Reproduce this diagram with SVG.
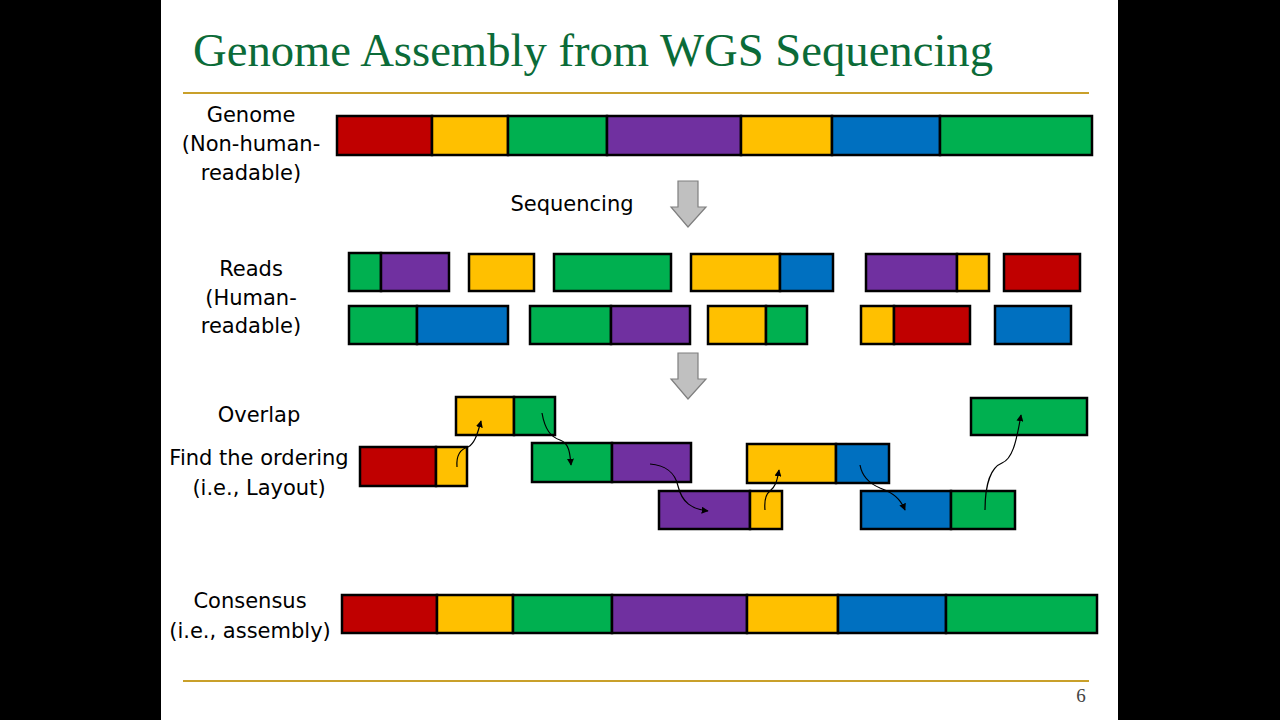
<svg xmlns="http://www.w3.org/2000/svg" width="1280" height="720" viewBox="0 0 1280 720">
<style>
.lbl{font-family:"DejaVu Sans",Verdana,sans-serif;font-size:21px;fill:#000;text-anchor:middle}
.seg{stroke:#000;stroke-width:2.5}
.r{fill:#C00000}.y{fill:#FFC000}.g{fill:#00B050}.p{fill:#7030A0}.b{fill:#0070C0}
.gold{stroke:#C9A02A;stroke-width:2}
.big{fill:#C0C0C0;stroke:#7F7F7F;stroke-width:1.2}
.cv{fill:none;stroke:#000;stroke-width:1.2;marker-end:url(#ah)}
</style>
<defs>
<marker id="ah" viewBox="0 0 10 10" refX="9" refY="5" markerWidth="7" markerHeight="7" markerUnits="userSpaceOnUse" orient="auto"><path d="M0,0 L10,5 L0,10 z" fill="#000"/></marker>
</defs>
<rect x="0" y="0" width="1280" height="720" fill="#000"/>
<rect x="161" y="0" width="957" height="720" fill="#fff"/>
<text x="193" y="66" textLength="800" lengthAdjust="spacingAndGlyphs" style="font-family:'Liberation Serif','Times New Roman',serif;font-size:46px;fill:#0B6B38">Genome Assembly from WGS Sequencing</text>
<line class="gold" x1="183" y1="93" x2="1089" y2="93"/>
<line class="gold" x1="183" y1="681" x2="1089" y2="681"/>
<text x="1081" y="702" style="font-family:'Liberation Serif',serif;font-size:19px;fill:#444;text-anchor:middle">6</text>

<g id="labels">
<text class="lbl" x="251" y="122">Genome</text>
<text class="lbl" x="251" y="151">(Non-human-</text>
<text class="lbl" x="251" y="180">readable)</text>
<text class="lbl" x="572" y="211">Sequencing</text>
<text class="lbl" x="251" y="276">Reads</text>
<text class="lbl" x="251" y="305">(Human-</text>
<text class="lbl" x="251" y="333">readable)</text>
<text class="lbl" x="259" y="422">Overlap</text>
<text class="lbl" x="259" y="465">Find the ordering</text>
<text class="lbl" x="259" y="495">(i.e., Layout)</text>
<text class="lbl" x="250" y="608">Consensus</text>
<text class="lbl" x="250" y="638">(i.e., assembly)</text>
</g>

<g id="genome">
<rect class="seg r" x="337" y="116" width="95" height="39"/>
<rect class="seg y" x="432" y="116" width="76" height="39"/>
<rect class="seg g" x="508" y="116" width="99" height="39"/>
<rect class="seg p" x="607" y="116" width="134" height="39"/>
<rect class="seg y" x="741" y="116" width="91" height="39"/>
<rect class="seg b" x="832" y="116" width="108" height="39"/>
<rect class="seg g" x="940" y="116" width="152" height="39"/>
</g>

<g id="arrow-sequencing">
<path class="big" d="M678,181 H698 V207 H706 L688,227 L671,207 H678 Z"/>
</g>
<g id="arrow-overlap">
<path class="big" d="M678,353 H698 V379 H706 L688,399 L671,379 H678 Z"/>
</g>

<g id="reads-row1">
<g id="read1"><rect class="seg g" x="349" y="253" width="32" height="38"/><rect class="seg p" x="381" y="253" width="68" height="38"/></g>
<g id="read2"><rect class="seg y" x="469" y="254" width="65" height="37"/></g>
<g id="read3"><rect class="seg g" x="554" y="254" width="117" height="37"/></g>
<g id="read4"><rect class="seg y" x="691" y="254" width="89" height="37"/><rect class="seg b" x="780" y="254" width="53" height="37"/></g>
<g id="read5"><rect class="seg p" x="866" y="254" width="91" height="37"/><rect class="seg y" x="957" y="254" width="32" height="37"/></g>
<g id="read6"><rect class="seg r" x="1004" y="254" width="76" height="37"/></g>
</g>
<g id="reads-row2">
<g id="read7"><rect class="seg g" x="349" y="306" width="68" height="38"/><rect class="seg b" x="417" y="306" width="91" height="38"/></g>
<g id="read8"><rect class="seg g" x="530" y="306" width="81" height="38"/><rect class="seg p" x="611" y="306" width="79" height="38"/></g>
<g id="read9"><rect class="seg y" x="708" y="306" width="58" height="38"/><rect class="seg g" x="766" y="306" width="41" height="38"/></g>
<g id="read10"><rect class="seg y" x="861" y="306" width="33" height="38"/><rect class="seg r" x="894" y="306" width="76" height="38"/></g>
<g id="read11"><rect class="seg b" x="995" y="306" width="76" height="38"/></g>
</g>

<g id="layout">
<g id="L-red-yellow"><rect class="seg r" x="360" y="447" width="76" height="39"/><rect class="seg y" x="436" y="447" width="31" height="39"/></g>
<g id="L-yellow-green"><rect class="seg y" x="456" y="397" width="58" height="38"/><rect class="seg g" x="514" y="397" width="41" height="38"/></g>
<g id="L-green-purple"><rect class="seg g" x="532" y="443" width="80" height="39"/><rect class="seg p" x="612" y="443" width="79" height="39"/></g>
<g id="L-purple-yellow"><rect class="seg p" x="659" y="491" width="91" height="38"/><rect class="seg y" x="750" y="491" width="32" height="38"/></g>
<g id="L-yellow-blue"><rect class="seg y" x="747" y="444" width="89" height="39"/><rect class="seg b" x="836" y="444" width="53" height="39"/></g>
<g id="L-blue-green"><rect class="seg b" x="861" y="491" width="90" height="38"/><rect class="seg g" x="951" y="491" width="64" height="38"/></g>
<g id="L-green"><rect class="seg g" x="971" y="398" width="116" height="37"/></g>
</g>

<g id="connectors">
<path class="cv" d="M457,467 C456,455 461,449 468,447 C474,444 477,436 481,421"/>
<path class="cv" d="M542,413 C545,430 551,437 560,440 C569,443 570,453 571,465"/>
<path class="cv" d="M650,464 C664,465 675,472 678,486 C682,503 692,509 708,511"/>
<path class="cv" d="M765,510 C764,499 766,494 770,491 C775,487 777,482 779,470"/>
<path class="cv" d="M860,465 C862,476 868,483 880,488 C893,493 900,498 905,510"/>
<path class="cv" d="M985,510 C985,482 992,467 1002,463 C1012,459 1016,444 1021,415"/>
</g>

<g id="consensus">
<rect class="seg r" x="342" y="595" width="95" height="38"/>
<rect class="seg y" x="437" y="595" width="76" height="38"/>
<rect class="seg g" x="513" y="595" width="99" height="38"/>
<rect class="seg p" x="612" y="595" width="135" height="38"/>
<rect class="seg y" x="747" y="595" width="91" height="38"/>
<rect class="seg b" x="838" y="595" width="108" height="38"/>
<rect class="seg g" x="946" y="595" width="151" height="38"/>
</g>
</svg>
